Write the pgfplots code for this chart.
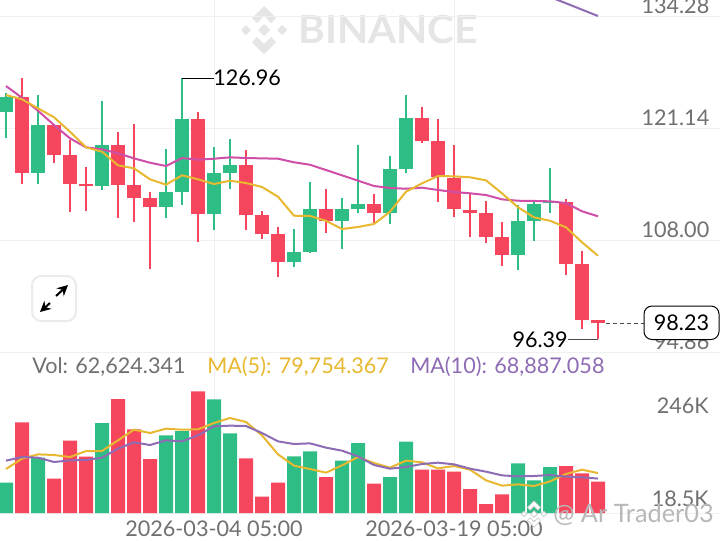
\documentclass[border=0pt]{standalone}
\usepackage{pgfplots}
\usepackage{pgfplotstable}
\pgfplotsset{compat=1.18}
\usepackage{fontspec}
\setmainfont{Lato}
\usetikzlibrary{arrows.meta}
\definecolor{upc}{HTML}{2EBD85}
\definecolor{dnc}{HTML}{F6465D}
\definecolor{ma5c}{HTML}{E8B830}
\definecolor{ma10c}{HTML}{8E6CB5}
\definecolor{pinkc}{HTML}{CF4FA8}
\definecolor{gridc}{HTML}{F0F0F0}
\definecolor{txtc}{HTML}{707070}
\newcommand\fs{\fontsize{16.2}{19}\selectfont}
% i high top bot low
\pgfplotstableread{
i high top bot low
0 125.21 124.81 123.02 119.93
2 125.01 121.49 115.90 114.57
6 124.34 119.11 114.34 113.87
10 118.68 113.63 111.91 110.58
11 126.96 122.20 113.63 112.14
13 118.88 115.83 111.09 109.17
14 119.85 116.80 115.83 113.95
18 109.29 106.63 105.45 104.83
19 114.77 111.67 106.59 106.44
21 112.89 111.60 110.26 106.98
22 119.15 112.22 111.60 111.13
24 117.85 116.33 111.13 109.91
25 125.01 122.31 116.33 115.90
32 112.11 110.23 106.28 104.52
33 112.61 112.22 110.26 107.88
34 116.48 112.46 112.31 111.20
}\upt
\pgfplotstableread{
i high top bot low
1 126.97 124.81 115.90 114.57
3 121.49 121.49 117.94 117.07
4 119.73 117.94 114.57 111.25
5 116.53 114.57 114.34 111.44
7 120.64 119.11 114.49 110.58
8 121.61 114.49 112.93 110.15
9 113.63 112.93 111.91 104.60
12 122.98 122.20 111.09 107.80
15 118.56 116.80 110.93 109.17
16 111.40 110.93 108.74 108.12
17 109.53 108.74 105.45 103.69
20 113.98 111.67 110.26 108.86
23 113.36 112.22 111.13 109.96
26 123.64 122.31 119.65 119.42
27 122.16 119.65 115.36 112.49
28 119.11 115.27 111.60 110.66
29 113.40 111.52 111.20 108.39
30 112.58 111.20 108.32 107.61
31 110.11 108.32 106.28 104.91
35 112.77 112.49 105.18 103.93
36 106.67 105.15 98.65 97.59
37 98.65 98.65 98.23 96.39
}\dnt
\pgfplotstableread{
i ma5 ma10
0 125.01 126.07
1 124.51 124.69
2 123.45 123.17
3 122.40 121.49
4 120.71 119.93
5 118.88 118.88
6 118.36 118.64
7 116.76 118.17
8 116.41 117.58
9 115.12 117.07
10 114.49 116.68
11 115.59 117.62
12 115.12 117.42
13 114.57 117.54
14 114.96 117.70
15 114.69 117.62
16 114.22 117.58
17 113.08 117.54
18 110.85 117.12
19 110.82 116.83
20 110.26 116.21
21 109.29 115.59
22 109.53 114.96
23 109.88 114.34
24 111.32 114.10
25 113.67 114.02
26 114.65 114.14
27 115.51 113.87
28 115.47 113.63
29 115.36 113.48
30 115.00 113.28
31 113.48 112.77
32 111.84 112.61
33 110.66 112.58
34 110.26 112.54
35 109.49 112.34
36 107.73 111.37
37 106.16 110.78
}\mat
\pgfplotstableread{
i v
0 60.7
2 110.7
6 180.0
10 155.3
11 164.0
13 227.3
14 159.3
18 113.3
19 123.3
21 104.7
22 140.0
24 72.0
25 142.7
32 99.3
33 65.3
34 92.0
}\vup
\pgfplotstableread{
i v
1 181.3
3 68.7
4 144.7
5 112.7
7 228.0
8 167.3
9 108.0
12 243.3
15 109.3
16 32.7
17 60.7
20 72.0
23 58.7
26 86.7
27 86.7
28 82.7
29 48.0
30 18.0
31 37.3
35 94.0
36 79.3
37 62.6
}\vdn
\pgfplotstableread{
i ma5 ma10
0 88.0 104.7
1 108.7 112.0
2 117.3 110.7
3 116.0 102.0
4 112.0 105.3
5 124.0 106.0
6 124.0 110.7
7 145.3 128.7
8 166.7 141.3
9 160.0 136.0
10 168.7 145.3
11 166.7 143.3
12 167.3 155.3
13 180.0 173.3
14 190.0 174.7
15 182.0 174.0
16 155.3 160.0
17 117.3 143.3
18 94.7 138.0
19 88.0 139.3
20 80.7 130.7
21 95.3 124.7
22 112.0 113.3
23 100.0 96.0
24 90.7 88.7
25 104.7 92.0
26 101.3 98.0
27 89.3 100.7
28 94.0 97.3
29 86.7 88.7
30 65.3 82.7
31 54.7 75.3
32 57.3 73.3
33 54.0 74.0
34 63.3 76.0
35 78.0 72.7
36 86.7 71.3
37 79.75 68.89
}\vmat
\newcommand\binlogo[1]{%
  \path[#1] (0,-24)--(12,-12)--(7,-7)--(0,-14)--(-7,-7)--(-12,-12)--cycle;
  \path[#1] (0,24)--(12,12)--(7,7)--(0,14)--(-7,7)--(-12,12)--cycle;
  \path[#1] (0,-6)--(6,0)--(0,6)--(-6,0)--cycle;
  \path[#1] (-18,-5)--(-13,0)--(-18,5)--(-23,0)--cycle;
  \path[#1] (18,-5)--(23,0)--(18,5)--(13,0)--cycle;
}
\pgfplotsset{
  panel/.style={
    scale only axis, width=540pt,
    xmin=-0.375, xmax=44.625,
    axis line style={draw=none}, major tick length=0pt,
    xtick={13,28}, xmajorgrids, ymajorgrids,
    grid style={gridc,line width=0.75pt},
  },
}
\begin{document}
\begin{tikzpicture}
\useasboundingbox (0pt,0pt) rectangle (540pt,-405pt);
\clip (0pt,0pt) rectangle (540pt,-405pt);
\fill[white] (0pt,0pt) rectangle (540pt,-405pt);
\begin{scope}[x=0.75pt,y=-0.75pt]
\begin{scope}[shift={(264,30)}]\binlogo{fill=black!10}\end{scope}
\node[anchor=west,inner sep=0pt,text=black!10,xscale=1.05] at (298,30) {\fontsize{29}{32}\selectfont\bfseries BINANCE};
\end{scope}
% price panel
\begin{axis}[panel, at={(0pt,-264pt)}, anchor=south west, height=264pt,
  ymin=94.86, ymax=136.16,
  xticklabels={},
  ytick={94.86,108,121.14,134.28},
  yticklabels={94.86,108.00,121.14,134.28},
  yticklabel pos=right,
  yticklabel style={anchor=east,xshift=-4.5pt,yshift=7.5pt,font=\fs,text=txtc},
]
\addplot[forget plot,mark=none,draw=none,error bars/.cd,y dir=plus,y explicit,error mark=none,
  error bar style={upc,line width=1.5pt,solid}] table[x=i,y=low,y error expr=\thisrow{high}-\thisrow{low}] {\upt};
\addplot[forget plot,mark=none,draw=none,error bars/.cd,y dir=plus,y explicit,error mark=none,
  error bar style={dnc,line width=1.5pt,solid}] table[x=i,y=low,y error expr=\thisrow{high}-\thisrow{low}] {\dnt};
\addplot[forget plot,mark=none,draw=none,error bars/.cd,y dir=plus,y explicit,error mark=none,
  error bar style={upc,line width=10.5pt,solid}] table[x=i,y=bot,y error expr=\thisrow{top}-\thisrow{bot}] {\upt};
\addplot[forget plot,mark=none,draw=none,error bars/.cd,y dir=plus,y explicit,error mark=none,
  error bar style={dnc,line width=10.5pt,solid}] table[x=i,y=bot,y error expr=\thisrow{top}-\thisrow{bot}] {\dnt};
\addplot[pinkc,line width=1.5pt,mark=none] table[x=i,y=ma10] {\mat};
\addplot[ma5c,line width=1.5pt,mark=none] table[x=i,y=ma5] {\mat};
\addplot[ma10c,line width=1.5pt,mark=none] coordinates {(34,136.51)(35,135.78)(36,135.03)(37,134.28)};
\end{axis}
% volume panel
\begin{axis}[panel, at={(0pt,-384.75pt)}, anchor=south west, height=120.75pt,
  ymin=0, ymax=322, ytick={0}, yticklabels={},
  xticklabels={2026-03-04 05:00,2026-03-19 05:00},
  xticklabel style={font=\fs,text=txtc,yshift=-2.5pt},
]
\addplot[ybar,bar width=10.5pt,bar shift=0pt,fill=upc,draw=none] table[x=i,y=v] {\vup};
\addplot[ybar,bar width=10.5pt,bar shift=0pt,fill=dnc,draw=none] table[x=i,y=v] {\vdn};
\addplot[ma5c,line width=1.5pt,mark=none] table[x=i,y=ma5] {\vmat};
\addplot[ma10c,line width=1.5pt,mark=none] table[x=i,y=ma10] {\vmat};
\end{axis}
\begin{scope}[x=0.75pt,y=-0.75pt]
% annotations
\draw[black,line width=0.75pt] (182,78)--(214,78);
\node[anchor=west,inner sep=0pt] at (213,78) {\fs 126.96};
\draw[black!70,line width=0.75pt] (568,339.5)--(598,339.5);
\node[anchor=east,inner sep=0pt] at (568,340) {\fs 96.39};
\draw[black!70,line width=0.75pt,dash pattern=on 3pt off 2.2pt] (606,323)--(644,323);
\draw[black,fill=white,rounded corners=6pt,line width=0.75pt] (644,306) rectangle (719,339.5);
\node[inner sep=0pt] at (681.5,323) {\fs 98.23};
% legend
\node[anchor=west,inner sep=0pt,text=txtc] at (32,367) {\fs Vol: 62,624.341};
\node[anchor=west,inner sep=0pt,text=ma5c] at (207,367) {\fs MA(5): 79,754.367};
\node[anchor=west,inner sep=0pt,text=ma10c] at (410,367) {\fs MA(10): 68,887.058};
\node[anchor=east,inner sep=0pt,text=txtc] at (709,406) {\fs 246K};
\node[anchor=east,inner sep=0pt,text=txtc] at (709,499) {\fs 18.5K};
% expand button
\draw[black!8,fill=white,line width=1.5pt,rounded corners=7pt] (32,276) rectangle (76,321);
\draw[black,line width=1.5pt,-{Stealth[length=8pt,width=8pt]}] (50,303)--(40,312);
\draw[black,line width=1.5pt,-{Stealth[length=8pt,width=8pt]}] (56,296)--(68,285);
% watermark
\begin{scope}[shift={(534,514)},scale=0.55]\binlogo{fill=white,draw=black!22,line width=0.5pt}\end{scope}
\node[anchor=west,inner sep=0pt,text=black!28] at (553,515) {\fontsize{19}{22}\selectfont @ Ar Trader03};
\end{scope}
\end{tikzpicture}
\end{document}
